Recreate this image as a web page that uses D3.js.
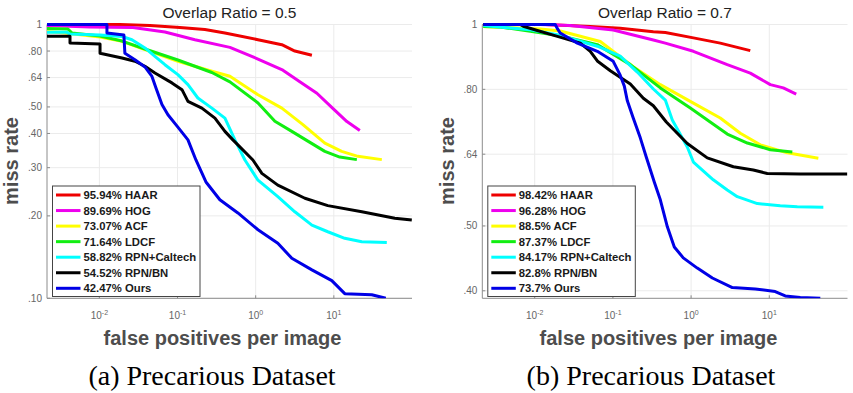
<!DOCTYPE html>
<html>
<head>
<meta charset="utf-8">
<script src="https://cdn.jsdelivr.net/npm/d3@7"></script>
<style>
  body { margin: 0; background: #fff; }
  text { font-family: "Liberation Sans", Arial, sans-serif; }
  .caption { font-family: "Liberation Serif", "Times New Roman", serif; }
</style>
</head>
<body>
<div id="chart"></div>
<script>
// legend entries
const methods = ["HAAR", "HOG", "ACF", "LDCF", "RPN+Caltech", "RPN/BN", "Ours"];
const colors = ["#ee0000", "#ee00ee", "#ffff00", "#11ee11", "#00ffff", "#000000", "#0000e6"];
const scores05 = ["95.94%", "89.69%", "73.07%", "71.64%", "58.82%", "54.52%", "42.47%"];
const scores07 = ["98.42%", "96.28%", "88.5%", "87.37%", "84.17%", "82.8%", "73.7%"];

const xTicks = [0.01, 0.1, 1, 10];
const xTickExp = ["-2", "-1", "0", "1"];
const yTicks05 = [0.1, 0.2, 0.3, 0.4, 0.5, 0.64, 0.8, 1];
const yLabels05 = [".10", ".20", ".30", ".40", ".50", ".64", ".80", "1"];
const yTicks07 = [0.4, 0.5, 0.64, 0.8, 1];
const yLabels07 = [".40", ".50", ".64", ".80", "1"];

// [false positives per image, miss rate] -- overlap 0.5
const haar05 = [[0.00214,1.0],[0.0183,1.0],[0.0444,0.992],[0.107,0.975],[0.224,0.959],[0.404,0.931],[1.07,0.880],[2.16,0.844],[3.17,0.800],[5.24,0.772]];
const hog05 = [[0.00214,0.992],[0.00759,0.979],[0.0269,0.975],[0.069,0.939],[0.167,0.880],[0.468,0.825],[1.07,0.748],[2.23,0.681],[3.67,0.618],[6.07,0.561],[9.70,0.494],[14.7,0.442],[21.5,0.410]];
const acf05 = [[0.00214,0.943],[0.00363,0.931],[0.0102,0.900],[0.0195,0.868],[0.0383,0.809],[0.101,0.734],[0.275,0.675],[0.468,0.647],[1.07,0.554],[2.16,0.495],[4.02,0.431],[7.67,0.369],[12.6,0.344],[20.3,0.330],[41.1,0.321]];
const ldcf05 = [[0.00214,0.967],[0.00396,0.963],[0.00447,0.931],[0.0102,0.908],[0.0195,0.870],[0.0383,0.814],[0.101,0.742],[0.275,0.668],[0.468,0.617],[1.07,0.517],[1.76,0.443],[2.90,0.407],[4.65,0.375],[7.67,0.344],[11.9,0.328],[19.7,0.321]];
const rpnc05 = [[0.00214,0.936],[0.00385,0.936],[0.00421,0.923],[0.0102,0.915],[0.0195,0.904],[0.0261,0.880],[0.0383,0.821],[0.0514,0.765],[0.069,0.713],[0.101,0.656],[0.136,0.603],[0.182,0.539],[0.275,0.495],[0.404,0.455],[0.542,0.379],[0.728,0.320],[1.07,0.270],[1.92,0.235],[3.17,0.207],[5.24,0.185],[8.37,0.175],[13.8,0.1656],[22.8,0.161],[47.6,0.160]];
const bn05 = [[0.00214,0.906],[0.00421,0.906],[0.00421,0.856],[0.0102,0.849],[0.0102,0.785],[0.0195,0.754],[0.0285,0.734],[0.0383,0.704],[0.0514,0.665],[0.0848,0.612],[0.114,0.578],[0.136,0.524],[0.205,0.495],[0.301,0.455],[0.404,0.407],[0.511,0.379],[0.921,0.320],[1.20,0.286],[1.92,0.259],[4.26,0.232],[8.37,0.218],[22.8,0.207],[60.3,0.196],[99.4,0.193]];
const ours05 = [[0.00214,1.0],[0.0125,1.0],[0.0125,0.931],[0.0206,0.915],[0.0212,0.785],[0.0285,0.744],[0.0383,0.700],[0.0471,0.646],[0.0530,0.586],[0.0632,0.510],[0.0754,0.468],[0.101,0.422],[0.136,0.379],[0.172,0.320],[0.231,0.266],[0.348,0.229],[0.592,0.205],[1.07,0.178],[1.92,0.159],[2.90,0.140],[5.24,0.127],[9.42,0.116],[13.8,0.104],[30.6,0.103],[46.2,0.100]];

// overlap 0.7
const haar07 = [[0.0022,1.0],[0.0137,1.0],[0.0514,0.993],[0.124,0.987],[0.329,0.9755],[0.468,0.973],[1.07,0.955],[2.36,0.938],[5.71,0.914]];
const hog07 = [[0.0022,1.0],[0.0118,1.0],[0.0285,0.9966],[0.101,0.981],[0.329,0.948],[0.468,0.938],[1.07,0.912],[2.90,0.871],[5.71,0.846],[10.3,0.813],[15.1,0.804],[22.1,0.787]];
const acf07 = [[0.0022,0.993],[0.0118,0.985],[0.0212,0.978],[0.069,0.943],[0.182,0.865],[0.404,0.813],[1.07,0.763],[2.36,0.725],[4.26,0.688],[7.67,0.661],[17.0,0.643],[42.4,0.631]];
const ldcf07 = [[0.0022,0.993],[0.00363,0.9914],[0.00879,0.977],[0.0232,0.960],[0.0632,0.933],[0.167,0.871],[0.404,0.804],[0.977,0.750],[2.90,0.686],[5.24,0.665],[10.3,0.650],[19.7,0.645]];
const rpnc07 = [[0.0022,0.9966],[0.00879,0.982],[0.0195,0.9655],[0.0383,0.944],[0.0632,0.928],[0.124,0.897],[0.205,0.849],[0.329,0.801],[0.468,0.771],[0.575,0.720],[0.894,0.656],[1.07,0.623],[1.92,0.586],[2.90,0.566],[3.90,0.553],[7.03,0.540],[13.8,0.536],[22.8,0.534],[49.1,0.533]];
const bn07 = [[0.0022,1.0],[0.00655,1.0],[0.00715,0.9938],[0.0108,0.9796],[0.0195,0.960],[0.0383,0.938],[0.0514,0.912],[0.0632,0.882],[0.0927,0.853],[0.167,0.815],[0.245,0.776],[0.329,0.756],[0.482,0.715],[0.894,0.664],[1.61,0.632],[3.47,0.613],[6.24,0.606],[9.42,0.599],[24.9,0.598],[99.4,0.598]];
const ours07 = [[0.0022,1.0],[0.0183,1.0],[0.0195,0.986],[0.0212,0.971],[0.0351,0.938],[0.0632,0.912],[0.101,0.881],[0.124,0.840],[0.140,0.809],[0.153,0.769],[0.182,0.725],[0.224,0.677],[0.267,0.634],[0.339,0.581],[0.404,0.547],[0.497,0.4985],[0.610,0.465],[0.794,0.448],[1.20,0.4325],[1.87,0.418],[3.37,0.4045],[6.62,0.4025],[11.9,0.399],[16.0,0.393],[24.9,0.391],[44.9,0.390]];

const width = 853, height = 393;
const plotTop = 24.5, plotBottom = 298.3;
const xDomain = [Math.pow(10, -2.67), 100];

const panels = [
  {id: "a", left: 47, right: 412, yMin: 0.1, yTicks: yTicks05, yLabels: yLabels05,
   title: "Overlap Ratio = 0.5", series: [haar05, hog05, acf05, ldcf05, rpnc05, bn05, ours05],
   scores: scores05, caption: "(a) Precarious Dataset", capX: 212, xlabX: 222.5, ylabX: 18},
  {id: "b", left: 482.3, right: 847.5, yMin: 0.3898, yTicks: yTicks07, yLabels: yLabels07,
   title: "Overlap Ratio = 0.7", series: [haar07, hog07, acf07, ldcf07, rpnc07, bn07, ours07],
   scores: scores07, caption: "(b) Precarious Dataset", capX: 651, xlabX: 658.5, ylabX: 454}
];

const svg = d3.select("#chart").append("svg")
  .attr("width", width).attr("height", height);

panels.forEach(p => {
  const x = d3.scaleLog().domain(xDomain).range([p.left, p.right]);
  const y = d3.scaleLog().domain([p.yMin, 1]).range([plotBottom, plotTop]);
  const g = svg.append("g");

  g.append("clipPath").attr("id", "clip-" + p.id)
    .append("rect")
    .attr("x", p.left).attr("y", plotTop - 2)
    .attr("width", p.right - p.left).attr("height", plotBottom - plotTop + 2);

  // grid
  g.selectAll(".vgrid").data(xTicks).enter().append("line")
    .attr("x1", d => x(d)).attr("x2", d => x(d))
    .attr("y1", plotTop).attr("y2", plotBottom)
    .attr("stroke", "#ebebeb").attr("stroke-width", 1);
  g.selectAll(".hgrid").data(p.yTicks).enter().append("line")
    .attr("x1", p.left).attr("x2", p.right)
    .attr("y1", d => y(d)).attr("y2", d => y(d))
    .attr("stroke", "#ebebeb").attr("stroke-width", 1);

  // axis lines + small inward ticks
  g.append("line").attr("x1", p.left).attr("x2", p.left).attr("y1", plotTop).attr("y2", plotBottom)
    .attr("stroke", "#8c8c8c");
  g.append("line").attr("x1", p.left).attr("x2", p.right).attr("y1", plotBottom).attr("y2", plotBottom)
    .attr("stroke", "#8c8c8c");
  g.selectAll(".yt").data(p.yTicks).enter().append("line")
    .attr("x1", p.left).attr("x2", p.left + 3)
    .attr("y1", d => y(d)).attr("y2", d => y(d)).attr("stroke", "#8c8c8c");
  g.selectAll(".xt").data(xTicks).enter().append("line")
    .attr("x1", d => x(d)).attr("x2", d => x(d))
    .attr("y1", plotBottom).attr("y2", plotBottom - 3).attr("stroke", "#8c8c8c");

  // tick labels
  g.selectAll(".ylab").data(p.yTicks).enter().append("text")
    .attr("x", p.left - 5).attr("y", d => y(d)).attr("dy", "0.35em")
    .attr("text-anchor", "end").attr("font-size", 10).attr("fill", "#666")
    .text((d, i) => p.yLabels[i]);
  const xl = g.selectAll(".xlab").data(xTicks).enter().append("text")
    .attr("x", d => x(d)).attr("y", 319)
    .attr("text-anchor", "middle").attr("font-size", 10).attr("fill", "#666");
  xl.append("tspan").text("10");
  xl.append("tspan").attr("dy", -4).attr("font-size", 7).text((d, i) => xTickExp[i]);

  // curves
  const line = d3.line().x(d => x(d[0])).y(d => y(d[1]));
  g.append("g").attr("clip-path", "url(#clip-" + p.id + ")")
    .selectAll("path").data(p.series).enter().append("path")
    .attr("d", line)
    .attr("fill", "none")
    .attr("stroke", (d, i) => colors[i])
    .attr("stroke-width", 3)
    .attr("stroke-linejoin", "round");

  // title and axis labels
  g.append("text")
    .attr("x", (p.left + p.right) / 2).attr("y", 17.5)
    .attr("text-anchor", "middle").attr("font-size", 15.5).attr("fill", "#222")
    .text(p.title);
  g.append("text")
    .attr("x", p.xlabX).attr("y", 345)
    .attr("text-anchor", "middle").attr("font-size", 20).attr("font-weight", "bold").attr("fill", "#4d4d4d")
    .text("false positives per image");
  g.append("text")
    .attr("transform", "translate(" + p.ylabX + ",161) rotate(-90)")
    .attr("text-anchor", "middle").attr("font-size", 20).attr("font-weight", "bold").attr("fill", "#4d4d4d")
    .text("miss rate");

  // legend
  const lx = p.left + 5.5, ly = 186, rowH = 15.55;
  const leg = g.append("g");
  leg.append("rect")
    .attr("x", lx).attr("y", ly).attr("width", 147.5).attr("height", 110.5)
    .attr("fill", "#fff").attr("stroke", "#444").attr("stroke-width", 1);
  const rows = leg.selectAll(".row").data(methods).enter().append("g")
    .attr("transform", (d, i) => "translate(" + lx + "," + (ly + 9 + i * rowH) + ")");
  rows.append("line")
    .attr("x1", 3.5).attr("x2", 28).attr("y1", 0).attr("y2", 0)
    .attr("stroke", (d, i) => colors[i]).attr("stroke-width", 3);
  rows.append("text")
    .attr("x", 31).attr("y", 0).attr("dy", "0.36em")
    .attr("font-size", 11.3).attr("font-weight", "bold").attr("fill", "#1a1a1a")
    .text((d, i) => p.scores[i] + " " + d);

  // caption
  svg.append("text").attr("class", "caption")
    .attr("x", p.capX).attr("y", 385)
    .attr("text-anchor", "middle").attr("font-size", 28).attr("fill", "#000")
    .text(p.caption);
});
</script>
</body>
</html>
